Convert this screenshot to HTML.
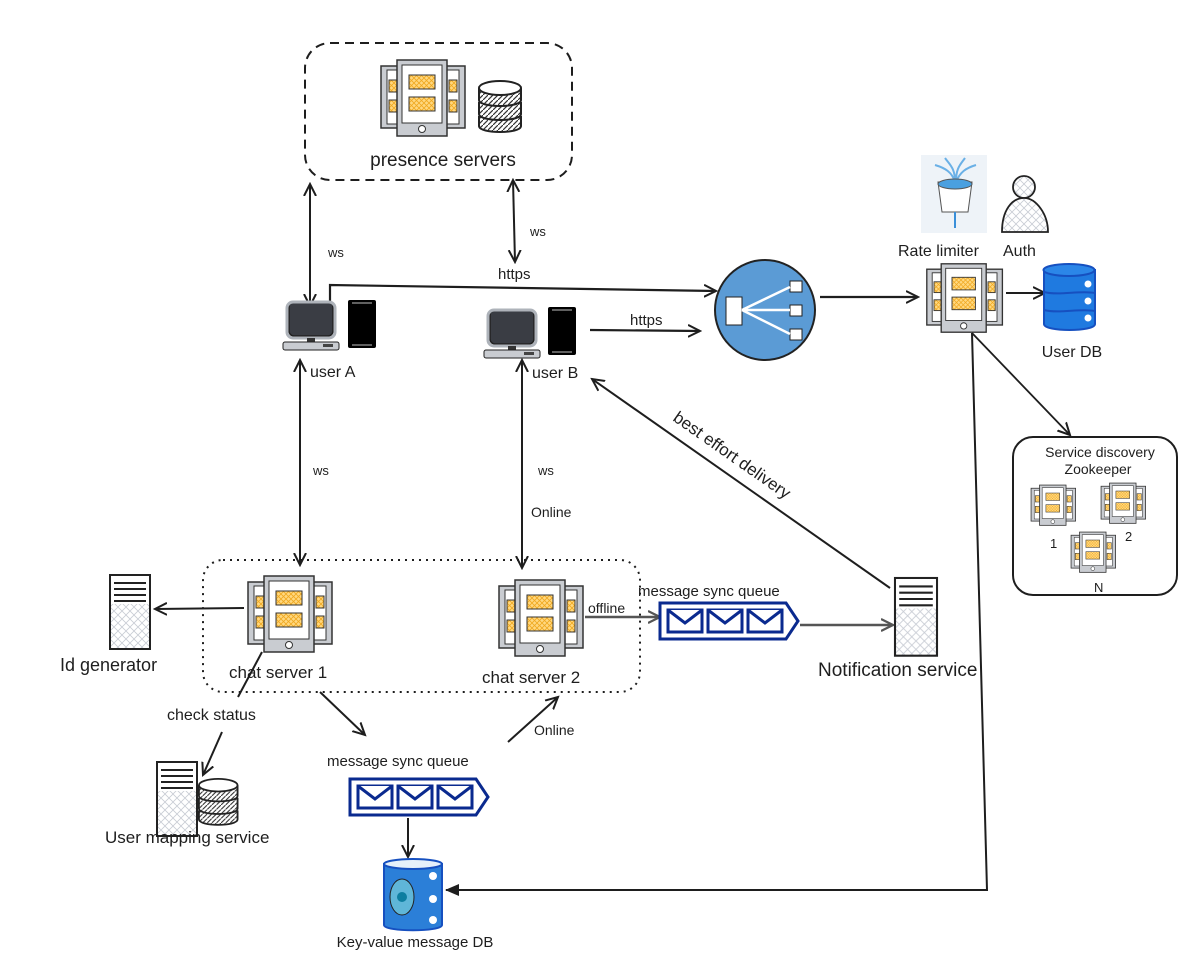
<!DOCTYPE html>
<html><head><meta charset="utf-8"><style>
html,body{margin:0;padding:0;background:#fff;}
svg{display:block;}
text{font-family:"Liberation Sans",sans-serif;fill:#1e1e1e;}
</style></head><body>
<svg width="1200" height="959" viewBox="0 0 1200 959" xmlns="http://www.w3.org/2000/svg">
<defs>
<pattern id="hatch" width="5" height="5" patternUnits="userSpaceOnUse"><rect width="5" height="5" fill="#ffd880"/><path d="M0 0L5 5M5 0L0 5" stroke="#f0a820" stroke-width="0.8"/></pattern>
<pattern id="grid" width="8" height="8" patternUnits="userSpaceOnUse"><rect width="8" height="8" fill="#fff"/><path d="M0 0L8 8M8 0L0 8" stroke="#c8ccd4" stroke-width="0.8"/></pattern>
<pattern id="diag" width="5" height="5" patternUnits="userSpaceOnUse"><rect width="5" height="5" fill="#fff"/><path d="M0 5L5 0" stroke="#333" stroke-width="1.2"/></pattern>
<marker id="ar" markerWidth="14" markerHeight="14" refX="12" refY="7" orient="auto" markerUnits="userSpaceOnUse"><path d="M0 1L12 7L0 13" fill="none" stroke="#1e1e1e" stroke-width="2"/></marker>
<marker id="ars" markerWidth="14" markerHeight="14" refX="2" refY="7" orient="auto" markerUnits="userSpaceOnUse"><path d="M14 1L2 7L14 13" fill="none" stroke="#1e1e1e" stroke-width="2"/></marker>
<marker id="arg" markerWidth="14" markerHeight="14" refX="12" refY="7" orient="auto" markerUnits="userSpaceOnUse"><path d="M0 1L12 7L0 13" fill="none" stroke="#555" stroke-width="2.2"/></marker>
<marker id="arf" markerWidth="16" markerHeight="14" refX="13" refY="7" orient="auto" markerUnits="userSpaceOnUse"><path d="M0 1L14 7L0 13Z" fill="#1e1e1e"/></marker>
<g id="srv">
<rect x="2" y="8" width="22" height="62" fill="#c9ccd1" stroke="#333" stroke-width="1.5"/>
<rect x="64" y="8" width="22" height="62" fill="#c9ccd1" stroke="#333" stroke-width="1.5"/>
<rect x="8" y="12" width="16" height="54" fill="#fff" stroke="#333"/>
<rect x="64" y="12" width="16" height="54" fill="#fff" stroke="#333"/>
<rect x="10" y="22" width="8" height="12" fill="url(#hatch)" stroke="#333"/>
<rect x="10" y="42" width="8" height="12" fill="url(#hatch)" stroke="#333"/>
<rect x="70" y="22" width="8" height="12" fill="url(#hatch)" stroke="#333"/>
<rect x="70" y="42" width="8" height="12" fill="url(#hatch)" stroke="#333"/>
<rect x="18" y="2" width="50" height="76" fill="#c9ccd1" stroke="#333" stroke-width="1.5"/>
<rect x="23" y="7" width="40" height="58" fill="#fff" stroke="#333"/>
<rect x="30" y="17" width="26" height="14" fill="url(#hatch)" stroke="#333"/>
<rect x="30" y="39" width="26" height="14" fill="url(#hatch)" stroke="#333"/>
<circle cx="43" cy="71" r="3.5" fill="#fff" stroke="#333"/>
</g>
<g id="tower">
<rect x="0" y="0" width="40" height="74" fill="url(#grid)" stroke="#222" stroke-width="2"/>
<rect x="1" y="1" width="38" height="28" fill="#fff"/>
<path d="M4 8H36M4 14H36M4 20H36M4 26H36" stroke="#222" stroke-width="2"/>
</g>
<g id="stack">
<path d="M1 36V46C1 54 43 54 43 46V36" fill="url(#diag)" stroke="#222" stroke-width="2"/>
<path d="M1 22V34C1 42 43 42 43 34V22" fill="url(#diag)" stroke="#222" stroke-width="2"/>
<path d="M1 8V20C1 28 43 28 43 20V8" fill="url(#diag)" stroke="#222" stroke-width="2"/>
<ellipse cx="22" cy="8" rx="21" ry="7" fill="#fff" stroke="#222" stroke-width="2"/>
</g>
<g id="queue">
<path d="M2 2H128L140 20L128 38H2Z" fill="#fff" stroke="#0a2a8f" stroke-width="3"/>
<g fill="#fff" stroke="#0a2a8f" stroke-width="3">
<rect x="10" y="9" width="34" height="22"/><path d="M10 9L27 22L44 9"/>
<rect x="50" y="9" width="34" height="22"/><path d="M50 9L67 22L84 9"/>
<rect x="90" y="9" width="34" height="22"/><path d="M90 9L107 22L124 9"/>
</g>
</g>
<g id="pc">
<rect x="6" y="0" width="44" height="34" rx="5" fill="#3a3d44" stroke="#222" stroke-width="1.5"/>
<rect x="4" y="0" width="48" height="36" rx="6" fill="none" stroke="#aeb3ba" stroke-width="3"/>
<rect x="24" y="36" width="8" height="4" fill="#333"/>
<rect x="0" y="40" width="56" height="8" rx="2" fill="#c9ccd1" stroke="#222"/>
<rect x="40" y="42" width="10" height="3" fill="#444"/>
</g>
<g id="phone"><rect x="0" y="0" width="28" height="48" rx="2" fill="#000"/><path d="M4 3H24M4 45H24" stroke="#fff" stroke-width="0.8"/></g>
</defs>

<rect x="305" y="43" width="267" height="137" rx="25" fill="none" stroke="#1e1e1e" stroke-width="2" stroke-dasharray="9 6"/>
<use href="#srv" transform="translate(379,58)"/>
<use href="#stack" transform="translate(478,80)"/>
<text x="443" y="166" font-size="19" text-anchor="middle">presence servers</text>

<line x1="310" y1="184" x2="310" y2="306" stroke="#1e1e1e" stroke-width="2" marker-start="url(#ars)" marker-end="url(#ar)"/>
<text x="328" y="257" font-size="13">ws</text>
<line x1="513" y1="180" x2="515" y2="262" stroke="#1e1e1e" stroke-width="2" marker-start="url(#ars)" marker-end="url(#ar)"/>
<text x="530" y="236" font-size="13">ws</text>
<text x="498" y="279" font-size="15">https</text>

<path d="M330 302V285L716 291" fill="none" stroke="#1e1e1e" stroke-width="2.2" marker-end="url(#ar)"/>

<use href="#pc" transform="translate(283,302)"/>
<use href="#phone" transform="translate(348,300)"/>
<text x="310" y="377" font-size="16">user A</text>
<use href="#pc" transform="translate(484,310)"/>
<use href="#phone" transform="translate(548,307)"/>
<text x="532" y="378" font-size="16">user B</text>
<line x1="590" y1="330" x2="700" y2="331" stroke="#1e1e1e" stroke-width="2.2" marker-end="url(#ar)"/>
<text x="630" y="325" font-size="15">https</text>

<circle cx="765" cy="310" r="50" fill="#5b9bd5" stroke="#222" stroke-width="2"/>
<rect x="726" y="297" width="16" height="28" fill="#fff" stroke="#222"/>
<rect x="790" y="281" width="12" height="11" fill="#fff" stroke="#222"/>
<rect x="790" y="305" width="12" height="11" fill="#fff" stroke="#222"/>
<rect x="790" y="329" width="12" height="11" fill="#fff" stroke="#222"/>
<path d="M742 310L790 287M742 310L790 310M742 310L790 334" stroke="#fff" stroke-width="2.5"/>
<line x1="820" y1="297" x2="918" y2="297" stroke="#1e1e1e" stroke-width="2.2" marker-end="url(#ar)"/>

<rect x="921" y="155" width="66" height="78" fill="#eef3f8"/>
<path d="M945 158C950 165 955 168 955 182M965 158C960 165 956 168 956 182M935 165C945 168 952 172 955 182M976 165C966 168 960 172 956 182" stroke="#6ab0e6" stroke-width="2" fill="none"/>
<path d="M938 182H972L968 212H942Z" fill="#fff" stroke="#555"/>
<ellipse cx="955" cy="184" rx="17" ry="5" fill="#4aa0e0" stroke="#555"/>
<line x1="955" y1="212" x2="955" y2="228" stroke="#3a8fd9" stroke-width="2"/>
<circle cx="1024" cy="187" r="11" fill="url(#grid)" stroke="#222" stroke-width="1.8"/>
<path d="M1002 232C1002 210 1012 198 1024 198C1036 198 1048 214 1048 232Z" fill="url(#grid)" stroke="#222" stroke-width="1.8"/>
<text x="898" y="256" font-size="16">Rate limiter</text>
<text x="1003" y="256" font-size="16">Auth</text>
<use href="#srv" transform="translate(925,262) scale(0.9)"/>
<line x1="1006" y1="293" x2="1045" y2="293" stroke="#1e1e1e" stroke-width="2" marker-end="url(#ar)"/>
<g>
<path d="M1044 270V324C1044 332 1095 332 1095 324V270Z" fill="#1f7ae0" stroke="#1650c0" stroke-width="2"/>
<ellipse cx="1069" cy="270" rx="25.5" ry="6" fill="#2b86e8" stroke="#1650c0" stroke-width="2"/>
<path d="M1044 292C1060 296 1080 290 1095 293M1044 310C1060 314 1080 308 1095 311" stroke="#1650c0" stroke-width="2" fill="none"/>
<circle cx="1088" cy="284" r="3.5" fill="#fff"/><circle cx="1088" cy="301" r="3.5" fill="#fff"/><circle cx="1088" cy="318" r="3.5" fill="#fff"/>
</g>
<text x="1072" y="357" font-size="16" text-anchor="middle">User DB</text>
<line x1="972" y1="333" x2="1070" y2="435" stroke="#1e1e1e" stroke-width="1.8" marker-end="url(#ar)"/>

<rect x="1013" y="437" width="164" height="158" rx="20" fill="none" stroke="#1e1e1e" stroke-width="2"/>
<text x="1100" y="457" font-size="14" text-anchor="middle">Service discovery</text>
<text x="1098" y="474" font-size="14" text-anchor="middle">Zookeeper</text>
<use href="#srv" transform="translate(1030,484) scale(0.53)"/>
<use href="#srv" transform="translate(1100,482) scale(0.53)"/>
<use href="#srv" transform="translate(1070,531) scale(0.53)"/>
<text x="1050" y="548" font-size="13">1</text>
<text x="1125" y="541" font-size="13">2</text>
<text x="1094" y="592" font-size="13">N</text>

<path d="M972 333L987 890H446" fill="none" stroke="#1e1e1e" stroke-width="2" marker-end="url(#arf)"/>

<line x1="300" y1="360" x2="300" y2="565" stroke="#1e1e1e" stroke-width="2" marker-start="url(#ars)" marker-end="url(#ar)"/>
<text x="313" y="475" font-size="13">ws</text>
<line x1="522" y1="360" x2="522" y2="568" stroke="#1e1e1e" stroke-width="2" marker-start="url(#ars)" marker-end="url(#ar)"/>
<text x="538" y="475" font-size="13">ws</text>
<text x="531" y="517" font-size="14">Online</text>

<line x1="890" y1="588" x2="592" y2="379" stroke="#1e1e1e" stroke-width="2" marker-end="url(#ar)"/>
<text transform="translate(672,420) rotate(35)" font-size="17">best effort delivery</text>

<rect x="203" y="560" width="437" height="132" rx="20" fill="none" stroke="#1e1e1e" stroke-width="2" stroke-dasharray="2 5"/>
<use href="#srv" transform="translate(246,574)"/>
<text x="229" y="678" font-size="17">chat server 1</text>
<use href="#srv" transform="translate(497,578)"/>
<text x="482" y="683" font-size="17">chat server 2</text>

<use href="#tower" transform="translate(110,575)"/>
<line x1="244" y1="608" x2="155" y2="609" stroke="#1e1e1e" stroke-width="2" marker-end="url(#ar)"/>
<text x="60" y="671" font-size="18">Id generator</text>

<line x1="262" y1="652" x2="238" y2="697" stroke="#1e1e1e" stroke-width="2"/>
<text x="167" y="720" font-size="16">check status</text>
<line x1="222" y1="732" x2="203" y2="775" stroke="#1e1e1e" stroke-width="2" marker-end="url(#ar)"/>
<use href="#tower" transform="translate(157,762)"/>
<use href="#stack" transform="translate(198,778) scale(0.92 0.9)"/>
<text x="105" y="843" font-size="17">User mapping service</text>

<line x1="320" y1="692" x2="365" y2="735" stroke="#1e1e1e" stroke-width="2" marker-end="url(#ar)"/>
<text x="327" y="766" font-size="15">message sync queue</text>
<use href="#queue" transform="translate(348,777)"/>
<line x1="408" y1="818" x2="408" y2="857" stroke="#1e1e1e" stroke-width="2" marker-end="url(#ar)"/>
<line x1="508" y1="742" x2="558" y2="697" stroke="#1e1e1e" stroke-width="2" marker-end="url(#ar)"/>
<text x="534" y="735" font-size="14">Online</text>

<path d="M384 864V925C384 932 442 932 442 925V864Z" fill="#2b7fd8" stroke="#1650c0" stroke-width="2"/>
<ellipse cx="413" cy="864" rx="29" ry="5" fill="#e6f0fa" stroke="#1650c0" stroke-width="2"/>
<ellipse cx="402" cy="897" rx="12" ry="18" fill="#5fb6d8" stroke="#222"/>
<circle cx="402" cy="897" r="5" fill="#0e7ea0"/>
<circle cx="433" cy="876" r="4" fill="#fff"/><circle cx="433" cy="899" r="4" fill="#fff"/><circle cx="433" cy="920" r="4" fill="#fff"/>
<text x="415" y="947" font-size="15" text-anchor="middle">Key-value message DB</text>

<line x1="585" y1="617" x2="660" y2="617" stroke="#555" stroke-width="2.5" marker-end="url(#arg)"/>
<text x="588" y="613" font-size="14">offline</text>
<text x="638" y="596" font-size="15">message sync queue</text>
<use href="#queue" transform="translate(658,601)"/>
<line x1="800" y1="625" x2="893" y2="625" stroke="#555" stroke-width="2.5" marker-end="url(#arg)"/>
<use href="#tower" transform="translate(895,578) scale(1.05)"/>
<text x="818" y="676" font-size="19">Notification service</text>
</svg>
</body></html>
